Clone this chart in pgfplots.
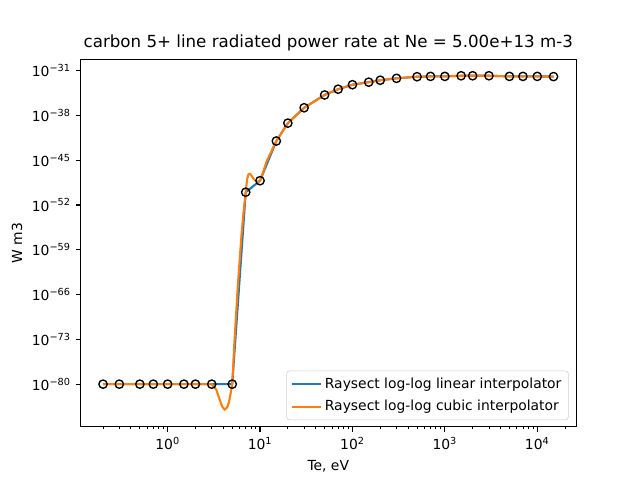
\documentclass[border=0pt]{standalone}
\usepackage{fontspec}
\setmainfont{DejaVu Sans}
\usepackage{pgfplots}
\pgfplotsset{compat=1.18}
\definecolor{mplblue}{HTML}{1F77B4}
\definecolor{mplorange}{HTML}{FF7F0E}
\definecolor{legframe}{HTML}{CCCCCC}
\begin{document}
\begin{tikzpicture}
\path[use as bounding box] (-57.96pt,-38.38pt) rectangle (402.84pt,307.22pt);
\begin{axis}[
  at={(0pt,0pt)}, anchor=south west,
  scale only axis, width=356.8pt, height=264.7pt,
  xmode=log, ymode=log,
  xmin=0.114, xmax=26300, ymin=2.24e-87, ymax=6.46e-30,
  axis line style={line width=0.8pt, black},
  tick align=outside, xtick pos=left, ytick pos=left,
  major tick length=3.5pt, minor tick length=2pt,
  every tick/.style={black, line width=0.8pt},
  every minor tick/.style={black, line width=0.6pt},
  /pgf/number format/assume math mode=true,
  xtick={1,10,100,1000,10000},
  xticklabels={10\textsuperscript{0},10\textsuperscript{1},10\textsuperscript{2},10\textsuperscript{3},10\textsuperscript{4}},
  minor xtick={0.2,0.3,0.4,0.5,0.6,0.7,0.8,0.9,2,3,4,5,6,7,8,9,20,30,40,50,60,70,80,90,200,300,400,500,600,700,800,900,2000,3000,4000,5000,6000,7000,8000,9000,20000},
  ytick={1e-80,1e-73,1e-66,1e-59,1e-52,1e-45,1e-38,1e-31},
  yticklabels={10\textsuperscript{−80},10\textsuperscript{−73},10\textsuperscript{−66},10\textsuperscript{−59},10\textsuperscript{−52},10\textsuperscript{−45},10\textsuperscript{−38},10\textsuperscript{−31}},
  yminorticks=false,
  tick label style={font=\fontsize{10}{12}\selectfont},
  xticklabel style={yshift=-0.5pt},
  title={carbon 5+ line radiated power rate at Ne = 5.00e+13 m-3},
  title style={font=\fontsize{12}{14.4}\selectfont, yshift=-4pt},
  xlabel={Te, eV},
  xlabel style={yshift=-1pt},
  ylabel={W m3},
  label style={font=\fontsize{10}{12}\selectfont},
  legend style={at={(0.985,0.018)}, anchor=south east, draw=legframe, rounded corners=2pt, fill=white, font=\fontsize{10}{12}\selectfont, inner xsep=3pt, inner ysep=3pt, row sep=3pt},
  legend cell align=left,
  legend image code/.code={\draw[#1, line width=1.5pt] (0pt,0pt) -- (21pt,0pt);},
  line join=round,
]
\addplot[mplblue, line width=1.5pt] coordinates {
(0.2,1e-80) (0.3,1e-80) (0.5,1e-80) (0.7,1e-80) (1,1e-80) (1.5,1e-80) (2,1e-80) (3,1e-80) (5,1e-80)
(7,1e-50) (10,6.310e-49) (15,1e-42) (20,6.310e-40) (30,1.585e-37) (50,1.585e-35) (70,1.259e-34)
(100,6.310e-34) (150,1.585e-33) (200,3.162e-33) (300,6.310e-33) (500,1.122e-32) (700,1.259e-32)
(1000,1.259e-32) (1500,1.585e-32) (2000,1.585e-32) (3000,1.585e-32) (5000,1.259e-32) (7000,1.259e-32)
(10000,1.259e-32) (15000,1.175e-32)
};
\addplot[mplorange, line width=1.5pt] coordinates {
(0.2,1e-80) (0.3,1e-80) (0.5,1e-80) (0.7,1e-80) (1,1e-80) (1.5,1e-80) (2,1e-80) (3,1e-80)
(3.373,1.259e-81) (3.656,3.981e-83) (3.890,3.162e-84) (4.150,1e-84) (4.416,2.512e-84) (4.613,1.585e-83)
(4.786,2.512e-82) (5,1e-80) (5.129,1e-77) (5.248,1e-74) (5.754,3.162e-65) (6.310,3.162e-57)
(6.607,5.012e-54) (7,1e-50) (7.244,1e-48) (7.499,6.310e-48) (7.762,7.943e-48) (8.072,3.981e-48)
(8.511,1.259e-48) (8.913,6.310e-49) (9.506,3.981e-49) (10,6.310e-49) (10.96,2.512e-47) (11.75,6.310e-46)
(12.88,1e-44) (15,1e-42) (20,6.310e-40) (30,1.585e-37) (50,1.585e-35) (70,1.259e-34)
(100,6.310e-34) (150,1.585e-33) (200,3.162e-33) (300,6.310e-33) (500,1.122e-32) (700,1.259e-32)
(1000,1.259e-32) (1500,1.585e-32) (2000,1.585e-32) (3000,1.585e-32) (5000,1.259e-32) (7000,1.259e-32)
(10000,1.259e-32) (15000,1.175e-32)
};
\addplot[only marks, mark=o, mark size=3pt, mark options={black, line width=1pt}, forget plot] coordinates {
(0.2,1e-80) (0.3,1e-80) (0.5,1e-80) (0.7,1e-80) (1,1e-80) (1.5,1e-80) (2,1e-80) (3,1e-80) (5,1e-80)
(7,1e-50) (10,6.310e-49) (15,1e-42) (20,6.310e-40) (30,1.585e-37) (50,1.585e-35) (70,1.259e-34)
(100,6.310e-34) (150,1.585e-33) (200,3.162e-33) (300,6.310e-33) (500,1.122e-32) (700,1.259e-32)
(1000,1.259e-32) (1500,1.585e-32) (2000,1.585e-32) (3000,1.585e-32) (5000,1.259e-32) (7000,1.259e-32)
(10000,1.259e-32) (15000,1.175e-32)
};
\legend{Raysect log-log linear interpolator, Raysect log-log cubic interpolator}
\end{axis}
\end{tikzpicture}
\end{document}
